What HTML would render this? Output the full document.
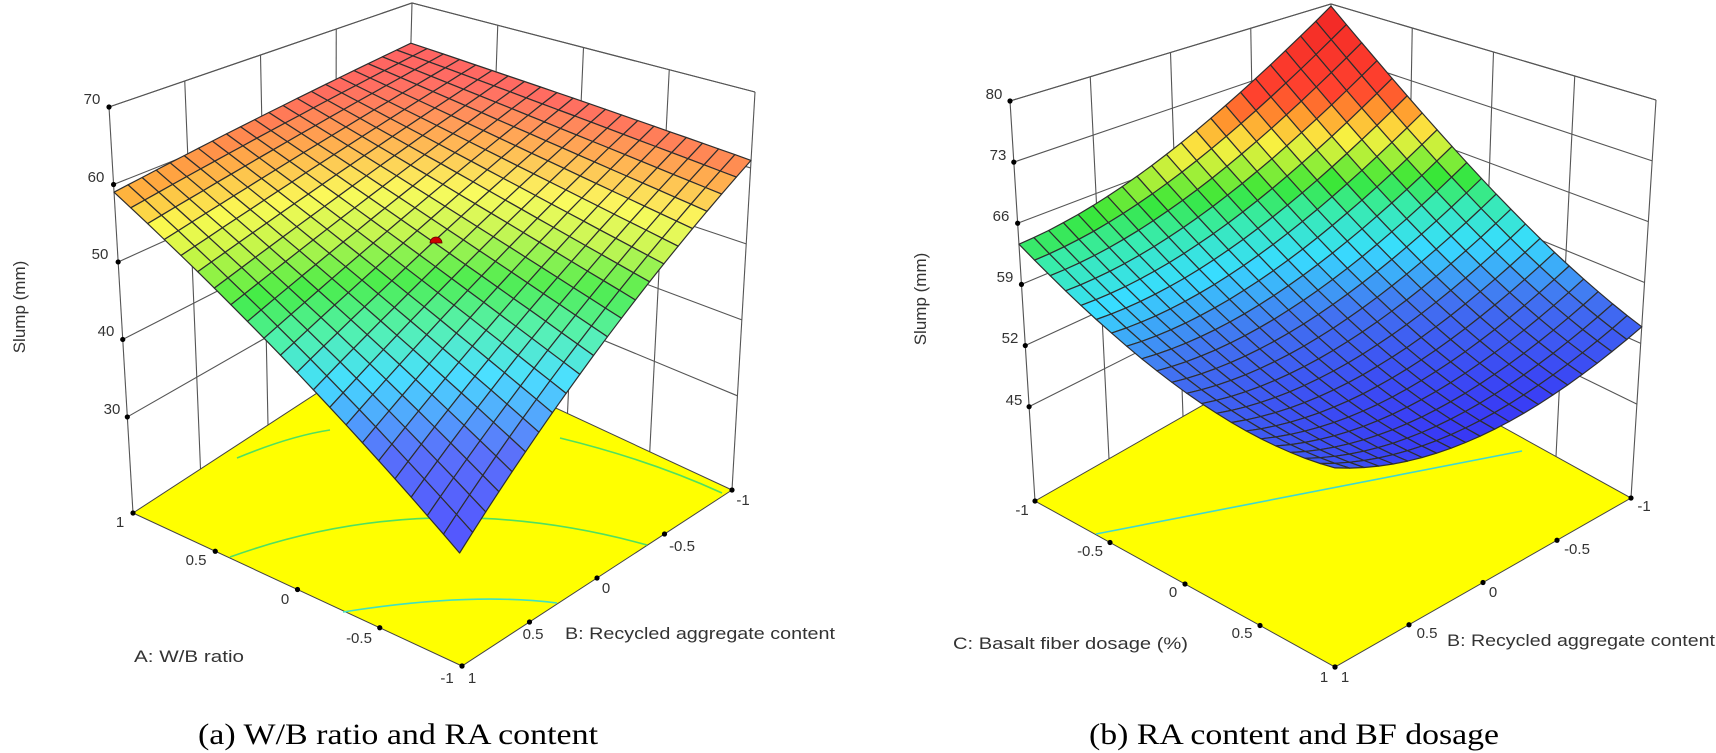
<!DOCTYPE html>
<html><head><meta charset="utf-8"><style>
html,body{margin:0;padding:0;background:#fff;}
svg{display:block;}
text{font-family:"Liberation Sans",Arial,sans-serif;fill:#333;}
</style></head><body>
<svg id="s" width="1716" height="753" viewBox="0 0 1716 753" xmlns="http://www.w3.org/2000/svg">
<g id="g1"></g><g id="g2"></g>
<text x="20" y="330" font-size="17" transform="rotate(-90 11 316)" text-anchor="middle">Slump (mm)</text>
<text x="921" y="322" font-size="17" transform="rotate(-90 912 308)" text-anchor="middle">Slump (mm)</text>
<text x="134" y="662" font-size="17" textLength="110" lengthAdjust="spacingAndGlyphs">A: W/B ratio</text>
<text x="565" y="639" font-size="17" textLength="270" lengthAdjust="spacingAndGlyphs">B: Recycled aggregate content</text>
<text x="953" y="649" font-size="17" textLength="235" lengthAdjust="spacingAndGlyphs">C: Basalt fiber dosage (%)</text>
<text x="1447" y="646" font-size="17" textLength="268" lengthAdjust="spacingAndGlyphs">B: Recycled aggregate content</text>
<text x="198" y="744" font-size="30" textLength="400" lengthAdjust="spacingAndGlyphs" style="font-family:'Liberation Serif',serif;fill:#000">(a) W/B ratio and RA content</text>
<text x="1089" y="744" font-size="30" textLength="410" lengthAdjust="spacingAndGlyphs" style="font-family:'Liberation Serif',serif;fill:#000">(b) RA content and BF dosage</text>
</svg>
<script>
var NS="http://www.w3.org/2000/svg";
function el(g,tag,a,txt){var e=document.createElementNS(NS,tag);for(var k in a)e.setAttribute(k,a[k]);if(txt!==undefined)e.textContent=txt;g.appendChild(e);return e;}
function lerp(a,b,t){return [a[0]+(b[0]-a[0])*t,a[1]+(b[1]-a[1])*t];}
function bil(c,u,v){var a=lerp(c.L,c.F,u),b=lerp(c.K,c.R,u);return lerp(a,b,v);}
function mk(stops){return function(t,lt){t=Math.max(0,Math.min(1,t));for(var i=1;i<stops.length;i++){if(t<=stops[i][0]){var a=stops[i-1],b=stops[i],f=(t-a[0])/(b[0]-a[0]);var c=[0,1,2].map(function(k){var x=a[1][k]+(b[1][k]-a[1][k])*f;return Math.round(x+(255-x)*lt);});return "rgb("+c.join(",")+")";}}};}
var cmapA=mk([[0,[75,75,255]],[0.22,[80,105,250]],[0.38,[60,220,255]],[0.48,[70,240,170]],[0.58,[60,235,60]],[0.68,[190,245,60]],[0.76,[250,250,70]],[0.86,[255,160,50]],[0.95,[255,75,60]],[1,[255,50,50]]]);
var cmapB=mk([[0,[50,50,245]],[0.18,[60,110,240]],[0.3,[50,220,255]],[0.4,[50,235,170]],[0.47,[50,230,50]],[0.54,[180,240,50]],[0.59,[250,240,60]],[0.66,[255,150,40]],[0.73,[255,60,40]],[1,[240,30,30]]]);
function panel(g,P){
 var fl=P.floor,tp=P.top;
 function scr(u,v,z){var p=bil(fl,u,v),t=bil(tp,u,v),f=(z-P.zmin)/(P.zmax-P.zmin);return [p[0]+(t[0]-p[0])*f,p[1]+(t[1]-p[1])*f];}
 var ln={stroke:"#555","stroke-width":1.1,fill:"none"};
 P.ticks.forEach(function(z){
  var a=scr(0,0,z),b=scr(0,1,z),c=scr(1,1,z);
  el(g,"polyline",Object.assign({points:a.join(",")+" "+b.join(",")+" "+c.join(",")},ln));
 });
 [0.25,0.5,0.75].forEach(function(s){
  var a=scr(0,s,P.zmin),b=scr(0,s,P.zmax);el(g,"line",Object.assign({x1:a[0],y1:a[1],x2:b[0],y2:b[1]},ln));
  a=scr(s,1,P.zmin);b=scr(s,1,P.zmax);el(g,"line",Object.assign({x1:a[0],y1:a[1],x2:b[0],y2:b[1]},ln));
 });
 [[0,0],[0,1],[1,1]].forEach(function(q){var a=scr(q[0],q[1],P.zmin),b=scr(q[0],q[1],P.zmax);el(g,"line",Object.assign({x1:a[0],y1:a[1],x2:b[0],y2:b[1]},ln));});
 var t1=scr(0,0,P.zmax),t2=scr(0,1,P.zmax),t3=scr(1,1,P.zmax);
 el(g,"polyline",Object.assign({points:t1.join(",")+" "+t2.join(",")+" "+t3.join(",")},ln));
 el(g,"polygon",{points:[fl.L,fl.F,fl.R,fl.K].map(function(p){return p.join(",");}).join(" "),fill:"#ffff00",stroke:"#444","stroke-width":1});
 P.contours.forEach(function(c){el(g,"path",{d:c[0],stroke:c[1],"stroke-width":1.6,fill:"none"});});
 P.ticks.forEach(function(z,i){var a=scr(0,0,z);el(g,"circle",{cx:a[0],cy:a[1],r:2.6,fill:"#000"});el(g,"text",{x:P.zl[i][0],y:P.zl[i][1]+5,"font-size":15,"text-anchor":"middle"},String(z));});
 [0,0.25,0.5,0.75,1].forEach(function(s){var a=bil(fl,s,0);el(g,"circle",{cx:a[0],cy:a[1],r:2.6,fill:"#000"});a=bil(fl,1,s);el(g,"circle",{cx:a[0],cy:a[1],r:2.6,fill:"#000"});});
 P.fl.forEach(function(l){el(g,"text",{x:l[1],y:l[2]+5,"font-size":15,"text-anchor":"middle"},l[0]);});
 var N=P.N,zs=[],mn=1e9,mx=-1e9;
 for(var i=0;i<=N;i++){zs[i]=[];for(var j=0;j<=N;j++){var z=P.f(i/N,j/N);zs[i][j]=z;mn=Math.min(mn,z);mx=Math.max(mx,z);}}
 var cells=[];
 for(i=0;i<N;i++)for(j=0;j<N;j++){
  var pts=[[i,j],[i+1,j],[i+1,j+1],[i,j+1]].map(function(q){return scr(q[0]/N,q[1]/N,zs[q[0]][q[1]]);});
  var zc=(zs[i][j]+zs[i+1][j]+zs[i+1][j+1]+zs[i][j+1])/4;
  var d=bil(fl,(i+.5)/N,(j+.5)/N)[1];
  cells.push([d,pts,zc,(i+.5)/N,(j+.5)/N]);
 }
 cells.sort(function(a,b){return a[0]-b[0];});
 var sg=el(g,"g",{stroke:"#2e2e2e","stroke-width":1.2,"stroke-linejoin":"round"});
 cells.forEach(function(c){el(sg,"polygon",{points:c[1].map(function(p){return p[0].toFixed(1)+","+p[1].toFixed(1);}).join(" "),fill:P.cm((c[2]-mn)/(mx-mn),P.lt(c[3],c[4]))});});
}
panel(document.getElementById("g1"),{
 floor:{L:[133,513],F:[462,666],R:[732,490],K:[403,337]},
 top:{L:[109,107],F:[452,196],R:[755,92],K:[412,3]},
 zmin:17.6,zmax:70,ticks:[70,60,50,40,30],
 zl:[[92,99],[96,177],[100,254],[106,331],[112,409]],
 fl:[["1",120,522],["0.5",196,560],["0",285,599],["-0.5",359,638],["-1",447,678],["1",472,678],["0.5",533,634],["0",606,588],["-0.5",682,546],["-1",743,500]],
 contours:[["M230,557 Q430,485 647,545","#50e060"],["M343,612 Q470,592 557,603","#40e0c0"],["M237,458 Q290,436 330,430","#50e060"],["M560,438 Q650,460 722,493","#50e060"]],
 N:21,cm:cmapA,
 f:function(u,v){var z=(1-u)*(1-v)*59+u*(1-v)*30.2+u*v*61+(1-u)*v*63.7;return z-2*u*v*(1-u)*(1-v)*4;},
 lt:function(u,v){return 0.04+0.2*v*(1-u*0.5);}
});
panel(document.getElementById("g2"),{
 floor:{L:[1035,501],F:[1335,667],R:[1631,498],K:[1331,332]},
 top:{L:[1010,101],F:[1335,197],R:[1656,100],K:[1331,4]},
 zmin:34.2,zmax:80,ticks:[80,73,66,59,52,45],
 zl:[[994,94],[998,155],[1001,216],[1005,277],[1010,338],[1014,400]],
 fl:[["-1",1022,510],["-0.5",1090,551],["0",1173,592],["0.5",1242,633],["1",1324,677],["1",1345,677],["0.5",1427,633],["0",1493,592],["-0.5",1577,549],["-1",1644,506]],
 contours:[["M1096,534 L1522,451","#40d8d0"]],
 N:21,cm:cmapB,
 f:function(u,v){var z=(1-u)*(1-v)*63.6+u*(1-v)*53.6+u*v*53.9+(1-u)*v*79.7;return z-15*(u*(1-u)+v*(1-v));},
 lt:function(u,v){return 0.03;}
});
var g1=document.getElementById("g1");
el(g1,"path",{d:"M430,243 A6,6 0 0 1 442,243 Z",fill:"#cc0000",stroke:"#600","stroke-width":0.8});
</script>
</body></html>
